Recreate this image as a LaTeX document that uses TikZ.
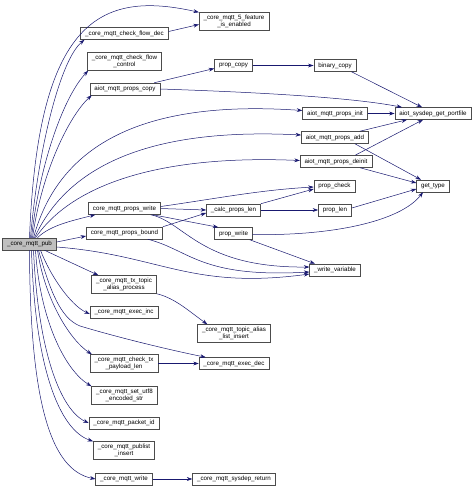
\documentclass[tikz,border=0pt]{standalone}
\usepackage{fontspec}
\setmainfont{Liberation Sans}
\usetikzlibrary{arrows.meta}
\definecolor{edgeblue}{RGB}{25,25,112}

\begin{document}
\begin{tikzpicture}[x=1pt,y=-1pt,
  fn/.style={draw=black!70,fill=white,line width=0.5pt,font=\fontsize{6.2}{7.2}\selectfont,
    inner xsep=4.5pt,inner ysep=2.5pt,minimum height=12pt,align=center},
  edge/.style={edgeblue,line width=0.5pt,-{Stealth[length=5.5pt,width=3.8pt]}}]
\useasboundingbox (0,0) rectangle (474,488);

\node[fn,fill=black!25] (pub) at (29.5,244) {\_core\_mqtt\_pub};
\node[fn] (feat) at (234,21.5) {\_core\_mqtt\_5\_feature\\\_is\_enabled};
\node[fn] (dec) at (124.5,33.5) {\_core\_mqtt\_check\_flow\_dec};
\node[fn] (ctrl) at (124.5,61.5) {\_core\_mqtt\_check\_flow\\\_control};
\node[fn] (pcopy) at (125,89) {aiot\_mqtt\_props\_copy};
\node[fn] (propcopy) at (233.5,65.5) {prop\_copy};
\node[fn] (bincopy) at (335,65.5) {binary\_copy};
\node[fn] (portfile) at (433,113.5) {aiot\_sysdep\_get\_portfile};
\node[fn] (pinit) at (335,113.5) {aiot\_mqtt\_props\_init};
\node[fn] (padd) at (335,137.5) {aiot\_mqtt\_props\_add};
\node[fn] (pdeinit) at (336,161.5) {aiot\_mqtt\_props\_deinit};
\node[fn] (gettype) at (433,186) {get\_type};
\node[fn] (propcheck) at (334.5,186) {prop\_check};
\node[fn] (calclen) at (233.5,210) {\_calc\_props\_len};
\node[fn] (proplen) at (335,210) {prop\_len};
\node[fn] (propwrite) at (233.5,233.5) {prop\_write};
\node[fn] (writevar) at (335,270) {\_write\_variable};
\node[fn] (pwrite) at (124.5,208.5) {core\_mqtt\_props\_write};
\node[fn] (pbound) at (124.5,233) {core\_mqtt\_props\_bound};
\node[fn] (alias) at (124,284.5) {\_core\_mqtt\_tx\_topic\\\_alias\_process};
\node[fn] (inc) at (124,312) {\_core\_mqtt\_exec\_inc};
\node[fn] (listins) at (234,333.5) {\_core\_mqtt\_topic\_alias\\\_list\_insert};
\node[fn] (execdec) at (234,363.5) {\_core\_mqtt\_exec\_dec};
\node[fn] (payload) at (124,363.5) {\_core\_mqtt\_check\_tx\\\_payload\_len};
\node[fn] (utf8) at (124.5,395.5) {\_core\_mqtt\_set\_utf8\\\_encoded\_str};
\node[fn] (pktid) at (124,423) {\_core\_mqtt\_packet\_id};
\node[fn] (publist) at (124,450.5) {\_core\_mqtt\_publist\\\_insert};
\node[fn] (write) at (124,479) {\_core\_mqtt\_write};
\node[fn] (sysret) at (234,479) {\_core\_mqtt\_sysdep\_return};

% calls made by _core_mqtt_pub
\draw[edge] (pub.north) .. controls (38,20) and (100,-10) .. (feat.north west);
\draw[edge] ([xshift=1pt]pub.north) .. controls (38,150) and (60,60) .. ([xshift=4pt]dec.south west);
\draw[edge] ([xshift=2pt]pub.north) .. controls (40,160) and (65,95) .. ([xshift=1pt]ctrl.south west);
\draw[edge] ([xshift=3pt]pub.north) .. controls (42,170) and (70,115) .. ([xshift=2pt]pcopy.south west);
\draw[edge] ([xshift=4pt]pub.north) .. controls (60,140) and (150,100) .. ([yshift=3pt]pinit.west);
\draw[edge] ([xshift=5pt]pub.north) .. controls (70,160) and (160,128) .. ([yshift=2.5pt]padd.west);
\draw[edge] ([xshift=6pt]pub.north) .. controls (75,180) and (170,155) .. ([yshift=1pt]pdeinit.west);
\draw[edge] ([xshift=8pt]pub.north) .. controls (50,225) and (75,220) .. ([xshift=7pt]pwrite.south west);
\draw[edge] ([yshift=2pt]pub.east) -- ([yshift=-3pt]pbound.west);
\draw[edge] ([yshift=-3pt]pub.east) .. controls (160,255) and (190,290) .. ([yshift=-4pt]writevar.west);
\draw[edge] ([xshift=15pt]pub.south) -- ([xshift=7pt]alias.north west);
\draw[edge] ([xshift=11pt]pub.south) .. controls (50,275) and (70,305) .. ([yshift=-2pt]inc.west);
\draw[edge] ([xshift=9pt]pub.south) .. controls (50,290) and (60,318) .. (80,326)
  .. controls (120,338) and (170,350) .. ([xshift=7pt]execdec.north west);
\draw[edge] ([xshift=8pt]pub.south) .. controls (45,300) and (70,340) .. ([xshift=2pt]payload.north west);
\draw[edge] ([xshift=6pt]pub.south) .. controls (40,320) and (65,370) .. (utf8.north west);
\draw[edge] ([xshift=4pt]pub.south) .. controls (38,350) and (60,410) .. (pktid.west);
\draw[edge] ([xshift=2pt]pub.south) .. controls (35,370) and (60,430) .. (publist.north west);
\draw[edge] (pub.south) .. controls (30,400) and (50,470) .. (write.west);

% second level
\draw[edge] ([yshift=2pt]dec.east) -- ([yshift=-3pt]feat.west);
\draw[edge] ([xshift=-6pt]pcopy.north east) -- ([yshift=-3pt]propcopy.west);
\draw[edge] (pcopy.east) .. controls (250,92) and (350,97) .. ([xshift=-31pt]portfile.north);
\draw[edge] (propcopy) -- (bincopy);
\draw[edge] ([xshift=-5pt]bincopy.south east) -- ([xshift=-11pt]portfile.north);
\draw[edge] (pinit) -- (portfile);
\draw[edge] ([xshift=-9pt]padd.north east) -- ([xshift=-26pt]portfile.south);
\draw[edge] ([xshift=-14pt]padd.south east) -- ([xshift=-12pt]gettype.north);
\draw[edge] ([xshift=-17pt]pdeinit.north east) -- ([xshift=-10pt]portfile.south);
\draw[edge] ([xshift=-12pt]pdeinit.south east) -- ([yshift=3pt]gettype.west);
\draw[edge] ([yshift=2pt]pwrite.east) .. controls (220,198) and (260,190) .. ([yshift=-1pt]propcheck.west);
\draw[edge] (pwrite.east) -- (calclen.west);
\draw[edge] ([xshift=-8pt]pwrite.south east) -- ([xshift=4pt]propwrite.north west);
\draw[edge] ([xshift=-10pt]pwrite.south east) .. controls (185,222) and (200,268) .. ([yshift=3pt]writevar.west);
\draw[edge] (pbound.north east) -- ([yshift=-3pt]calclen.west);
\draw[edge] ([xshift=-15pt]pbound.south east) .. controls (190,250) and (200,278) .. ([yshift=-2pt]writevar.west);
\draw[edge] (calclen.north east) -- ([yshift=-3pt]propcheck.west);
\draw[edge] (calclen) -- (proplen);
\draw[edge] ([yshift=2pt]proplen.east) -- ([yshift=-3pt]gettype.west);
\draw[edge] ([yshift=-1pt]propwrite.east) .. controls (330,236) and (400,222) .. ([xshift=-10pt]gettype.south);
\draw[edge] ([xshift=-3pt]propwrite.south east) -- ([xshift=-20pt]writevar.north);
\draw[edge] (alias.south east) .. controls (175,298) and (190,312) .. ([xshift=10pt]listins.north west);
\draw[edge] (payload) -- (execdec);
\draw[edge] (write) -- (sysret);
\end{tikzpicture}
\end{document}
